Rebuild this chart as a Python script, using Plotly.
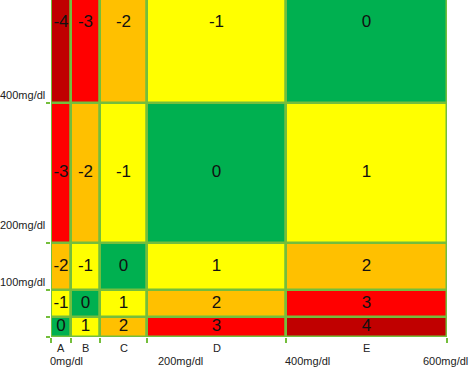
import plotly.graph_objects as go

# ---- data ----
col_labels = ["A", "B", "C", "D", "E"]
col_widths = [20, 29, 47, 139, 161]
row_heights = [20, 27, 47, 140, 161]          # bottom row first
values = [
    [0, 1, 2, 3, 4],
    [-1, 0, 1, 2, 3],
    [-2, -1, 0, 1, 2],
    [-3, -2, -1, 0, 1],
    [-4, -3, -2, -1, 0],
]
x_tick_labels = ["0mg/dl", "200mg/dl", "400mg/dl", "600mg/dl"]
y_tick_labels = ["100mg/dl", "200mg/dl", "400mg/dl"]

# ---- styling ----
color_map = {
    -4: "#C00000", -3: "#FF0000", -2: "#FFC000", -1: "#FFFF00", 0: "#00B050",
    1: "#FFFF00", 2: "#FFC000", 3: "#FF0000", 4: "#C00000",
}
line_green = "#74BE3C"
font_family = "Liberation Sans, Arial, sans-serif"

# derived positions
col_edges = [0]
for w in col_widths:
    col_edges.append(col_edges[-1] + w)
col_centers = [(col_edges[i] + col_edges[i + 1]) / 2 for i in range(len(col_widths))]
row_edges = [0]
for h in row_heights:
    row_edges.append(row_edges[-1] + h)

fig = go.Figure()
tx, ty, tt = [], [], []
for r, h in enumerate(row_heights):
    fig.add_trace(go.Bar(
        x=col_centers,
        y=[h] * len(col_widths),
        base=row_edges[r],
        width=col_widths,
        marker=dict(color=[color_map[v] for v in values[r]],
                    line=dict(color=line_green, width=2.5)),
        hoverinfo="skip",
        showlegend=False,
    ))
    for c, v in enumerate(values[r]):
        tx.append(col_centers[c])
        ty.append(row_edges[r] + h / 2)
        tt.append(str(v))

fig.add_trace(go.Scatter(
    x=tx, y=ty, text=tt, mode="text",
    textfont=dict(family=font_family, size=17, color="#111111"),
    cliponaxis=False, hoverinfo="skip", showlegend=False,
))

annotations = []
for c, lab in enumerate(col_labels):
    annotations.append(dict(x=col_centers[c], y=0, xref="x", yref="paper",
                            text=lab, showarrow=False, yanchor="middle", yshift=-11,
                            font=dict(family=font_family, size=11, color="#222222")))

x_label_edges = [col_edges[0], col_edges[3], col_edges[4], col_edges[5]]
x_label_shift = [15, 33, 21, -2]
for lab, xe, xs in zip(x_tick_labels, x_label_edges, x_label_shift):
    annotations.append(dict(x=xe, y=0, xref="x", yref="paper", text=lab,
                            showarrow=False, yanchor="middle", xshift=xs, yshift=-24,
                            font=dict(family=font_family, size=11, color="#222222")))

y_label_edges = [row_edges[2], row_edges[3], row_edges[4]]
y_label_shift = [8, 18, 8]
for lab, ye, ys in zip(y_tick_labels, y_label_edges, y_label_shift):
    annotations.append(dict(x=0, y=ye, xref="paper", yref="y", text=lab,
                            showarrow=False, xanchor="right", yanchor="middle",
                            xshift=-4, yshift=ys,
                            font=dict(family=font_family, size=11, color="#222222")))

fig.update_layout(
    width=474, height=370,
    margin=dict(l=51, r=27, t=0, b=33),
    paper_bgcolor="white", plot_bgcolor="white",
    barmode="overlay", bargap=0,
    annotations=annotations,
    xaxis=dict(range=[0, col_edges[-1]], showgrid=False, zeroline=False,
               tickvals=col_edges, showticklabels=False, ticks="outside",
               ticklen=5, tickwidth=2, tickcolor=line_green, fixedrange=True),
    yaxis=dict(range=[0, 337], showgrid=False, zeroline=False,
               tickvals=row_edges[:-1], showticklabels=False, ticks="outside",
               ticklen=4, tickwidth=2, tickcolor=line_green, fixedrange=True),
)

fig.write_html("out.html", config={"displayModeBar": False},
               post_script="document.body.style.margin='0';document.body.style.overflow='hidden';")
